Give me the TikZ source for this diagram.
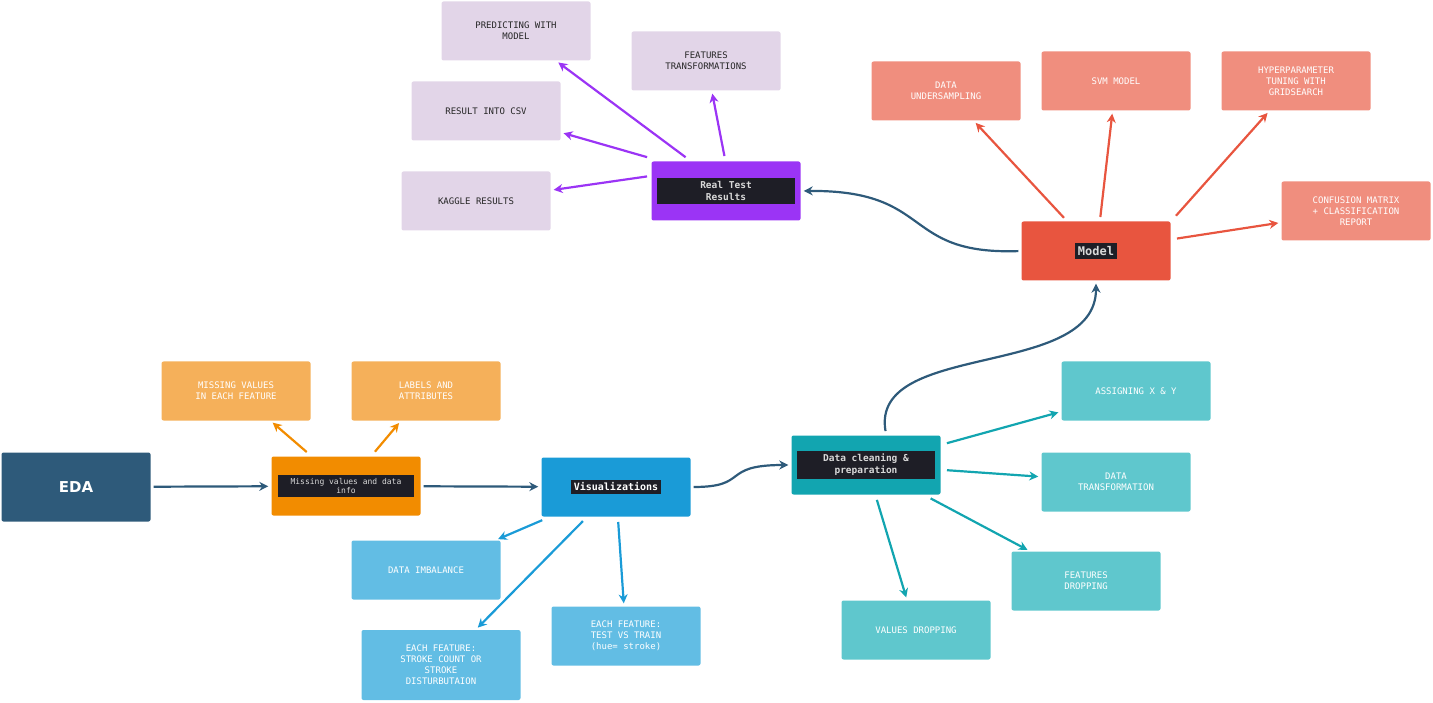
\documentclass[tikz,border=0pt]{standalone}
\usepackage{fontspec}
\setmainfont{DejaVu Sans Mono}
\newfontfamily\sansf{DejaVu Sans}
\usetikzlibrary{arrows.meta}
\definecolor{cmain}{HTML}{2E5A7A}
\definecolor{corange}{HTML}{F28C00}
\definecolor{clorange}{HTML}{F5B05A}
\definecolor{cblue}{HTML}{1A9BD7}
\definecolor{clblue}{HTML}{62BDE4}
\definecolor{cteal}{HTML}{12A5B0}
\definecolor{clteal}{HTML}{5FC7CD}
\definecolor{cred}{HTML}{E8553F}
\definecolor{clred}{HTML}{F08E7E}
\definecolor{cpurple}{HTML}{9B34F5}
\definecolor{clpurple}{HTML}{E2D5E8}
\definecolor{cdark}{HTML}{1E1E26}
\newcommand{\blk}[2]{\colorbox{cdark}{\parbox{#1}{\centering\color{white!85!black}#2}}}
\tikzset{
 box/.style={rounded corners=2pt, minimum width=149pt, minimum height=59pt, align=center, text=white, font=\fontsize{9}{11}\selectfont, inner sep=2pt},
 lt/.style={box, text=black!85},
 con/.style={line width=2.2pt, -{Stealth[length=9pt,width=9pt]}, shorten >=3pt, shorten <=3pt},
}
\begin{document}
\begin{tikzpicture}[x=1pt,y=-1pt]
\useasboundingbox (0,0) rectangle (1433,703);
% nodes
\node[box, fill=cmain, minimum height=69pt, font=\sansf\bfseries\fontsize{15}{17}\selectfont] (eda) at (76,487) {EDA};
\node[box, fill=corange] (miss) at (346,486) {\blk{130pt}{\fontsize{8}{9.5}\selectfont Missing values and data info}};
\node[box, fill=clorange] (mv) at (236,391) {MISSING VALUES\\IN EACH FEATURE};
\node[box, fill=clorange] (lab) at (426,391) {LABELS AND\\ATTRIBUTES};
\node[box, fill=cblue] (vis) at (616,487) {\colorbox{cdark}{\color{white}\bfseries\fontsize{10}{12}\selectfont Visualizations}};
\node[box, fill=clblue] (imb) at (426,570) {DATA IMBALANCE};
\node[box, fill=clblue, minimum width=159pt, minimum height=70pt] (sc) at (441,665) {EACH FEATURE:\\STROKE COUNT OR\\STROKE\\DISTURBUTAION};
\node[box, fill=clblue] (tt) at (626,636) {EACH FEATURE:\\TEST VS TRAIN\\(hue= stroke)};
\node[box, fill=cteal] (dc) at (866,465) {\blk{132pt}{\fontsize{9.5}{12}\selectfont\bfseries Data cleaning \&\\preparation}};
\node[box, fill=clteal] (xy) at (1136,391) {ASSIGNING X \& Y};
\node[box, fill=clteal] (dt) at (1116,482) {DATA\\TRANSFORMATION};
\node[box, fill=clteal] (fd) at (1086,581) {FEATURES\\DROPPING};
\node[box, fill=clteal] (vd) at (916,630) {VALUES DROPPING};
\node[box, fill=cred] (model) at (1096,251) {\colorbox{cdark}{\color{white!85!black}\bfseries\fontsize{12}{14}\selectfont Model}};
\node[box, fill=clred] (us) at (946,91) {DATA\\UNDERSAMPLING};
\node[box, fill=clred] (svm) at (1116,81) {SVM MODEL};
\node[box, fill=clred] (hp) at (1296,81) {HYPERPARAMETER\\TUNING WITH\\GRIDSEARCH};
\node[box, fill=clred] (cm) at (1356,211) {CONFUSION MATRIX\\+ CLASSIFICATION\\REPORT};
\node[box, fill=cpurple] (rt) at (726,191) {\blk{132pt}{\fontsize{9.5}{12}\selectfont\bfseries Real Test\\Results}};
\node[lt, fill=clpurple] (pm) at (516,31) {PREDICTING WITH\\MODEL};
\node[lt, fill=clpurple] (ft) at (706,61) {FEATURES\\TRANSFORMATIONS};
\node[lt, fill=clpurple] (csv) at (486,111) {RESULT INTO CSV};
\node[lt, fill=clpurple] (kg) at (476,201) {KAGGLE RESULTS};
% main connectors
\draw[con, cmain] (eda) -- (miss);
\draw[con, cmain] (miss) -- (vis);
\draw[con, cmain] (vis.east) .. controls (750,487) and (720,465) .. (dc.west);
\draw[con, cmain] (886,434) .. controls (870,340) and (1096,380) .. (model.south);
\draw[con, cmain] (model.west) .. controls (900,255) and (935,190) .. (rt.east);
% orange
\draw[con, corange] (309,454) -- (mv);
\draw[con, corange] (373,454) -- (lab);
% blue
\draw[con, cblue] (545,519) -- (imb);
\draw[con, cblue] (585,519) -- (sc);
\draw[con, cblue] (618,519) -- (tt);
% teal
\draw[con, cteal] (944,444) -- (xy);
\draw[con, cteal] (944,470) -- (dt);
\draw[con, cteal] (928,497) -- (fd);
\draw[con, cteal] (876,497) -- (vd);
% red
\draw[con, cred] (1066,220) -- (us);
\draw[con, cred] (1100,220) -- (svm);
\draw[con, cred] (1174,218) -- (hp);
\draw[con, cred] (1174,239) -- (cm);
% purple
\draw[con, cpurple] (688,159) -- (pm);
\draw[con, cpurple] (725,159) -- (ft);
\draw[con, cpurple] (650,158) -- (csv);
\draw[con, cpurple] (650,176) -- (kg);
\end{tikzpicture}
\end{document}
